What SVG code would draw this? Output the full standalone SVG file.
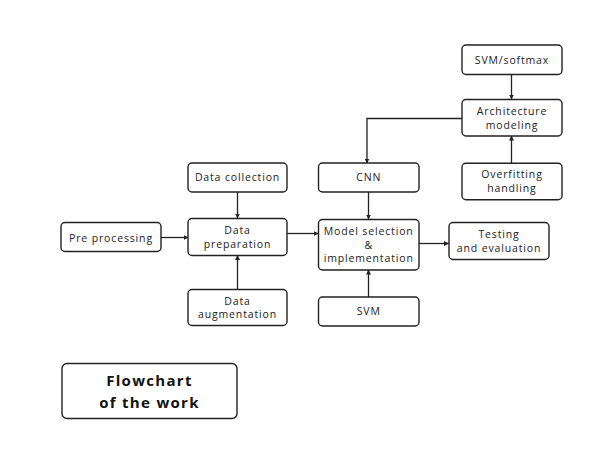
<svg xmlns="http://www.w3.org/2000/svg" width="589" height="466" viewBox="0 0 589 466">
<defs>
<style>
.box{fill:#fff;stroke:#222;stroke-width:1.4}
.t{font-family:"Open Sans","Liberation Sans",sans-serif;font-size:10.5px;fill:#222;text-anchor:middle;dominant-baseline:central;letter-spacing:0.85px}
.title{font-family:"Open Sans","Liberation Sans",sans-serif;font-size:15px;font-weight:bold;fill:#111;text-anchor:middle;dominant-baseline:central;letter-spacing:1.3px}
.c{fill:none;stroke:#222;stroke-width:1.3}
</style>
<marker id="ah" viewBox="0 0 10 10" refX="9" refY="5" markerWidth="5" markerHeight="5" orient="auto" markerUnits="userSpaceOnUse">
<path d="M0,0 L10,5 L0,10 z" fill="#222"/>
</marker>
</defs>
<rect width="589" height="466" fill="#fff"/>
<g id="connectors">
<path class="c" d="M237.5,192 V218" marker-end="url(#ah)"/>
<path class="c" d="M237.5,289.5 V255.5" marker-end="url(#ah)"/>
<path class="c" d="M161,237.5 H188" marker-end="url(#ah)"/>
<path class="c" d="M287,233.5 H318" marker-end="url(#ah)"/>
<path class="c" d="M368.5,192 V219" marker-end="url(#ah)"/>
<path class="c" d="M368.5,297 V270" marker-end="url(#ah)"/>
<path class="c" d="M419,243.5 H448.5" marker-end="url(#ah)"/>
<path class="c" d="M511.5,74.5 V99" marker-end="url(#ah)"/>
<path class="c" d="M511.5,163 V136" marker-end="url(#ah)"/>
<path class="c" d="M462,118.5 H367 V163" marker-end="url(#ah)"/>
</g>
<g id="svm-softmax"><rect class="box" x="462" y="45" width="100" height="29.5" rx="4"/><text class="t" x="512" y="59.7">SVM/softmax</text></g>
<g id="architecture-modeling"><rect class="box" x="462" y="99.5" width="100" height="36.5" rx="4"/><text class="t" x="512" y="111">Architecture</text><text class="t" x="512" y="124.5">modeling</text></g>
<g id="overfitting-handling"><rect class="box" x="462" y="163.3" width="100" height="36.5" rx="4"/><text class="t" x="512" y="174">Overfitting</text><text class="t" x="512" y="187.5">handling</text></g>
<g id="cnn"><rect class="box" x="318.5" y="163" width="100.5" height="29" rx="4"/><text class="t" x="368.7" y="177">CNN</text></g>
<g id="data-collection"><rect class="box" x="188" y="163" width="99" height="29" rx="4"/><text class="t" x="237.5" y="177">Data collection</text></g>
<g id="pre-processing"><rect class="box" x="61" y="222.5" width="100" height="29" rx="4"/><text class="t" x="111" y="238">Pre processing</text></g>
<g id="data-preparation"><rect class="box" x="188" y="218.5" width="99" height="37" rx="4"/><text class="t" x="237.5" y="230">Data</text><text class="t" x="237.5" y="243.5">preparation</text></g>
<g id="model-selection"><rect class="box" x="318.5" y="219.5" width="100.5" height="50.5" rx="4"/><text class="t" x="368.7" y="230.7">Model selection</text><text class="t" x="368.7" y="244.5">&amp;</text><text class="t" x="368.7" y="258.3">implementation</text></g>
<g id="testing-evaluation"><rect class="box" x="449" y="222.5" width="100" height="37" rx="4"/><text class="t" x="499" y="233.5">Testing</text><text class="t" x="499" y="247.5">and evaluation</text></g>
<g id="data-augmentation"><rect class="box" x="188" y="289.5" width="99" height="36" rx="4"/><text class="t" x="237.5" y="300.7">Data</text><text class="t" x="237.5" y="314.3">augmentation</text></g>
<g id="svm"><rect class="box" x="318.5" y="297" width="100.5" height="29" rx="4"/><text class="t" x="368.7" y="311.3">SVM</text></g>
<g id="flowchart-title"><rect class="box" x="62" y="363.5" width="175" height="55" rx="5"/><text class="title" x="149.5" y="380">Flowchart</text><text class="title" x="149.5" y="402">of the work</text></g>
</svg>
